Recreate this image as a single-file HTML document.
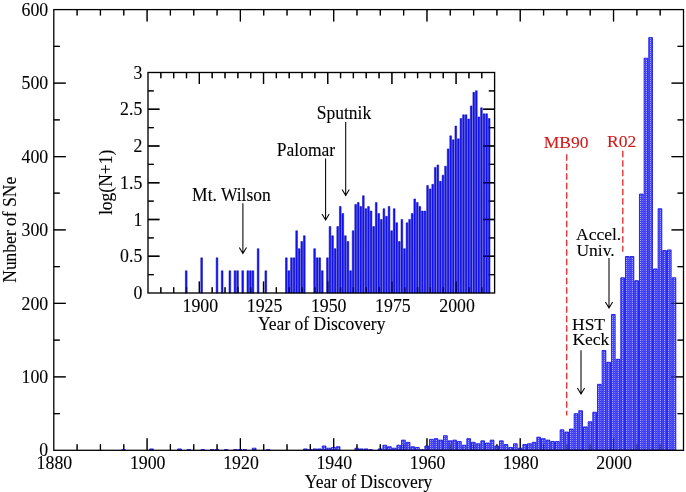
<!DOCTYPE html>
<html><head><meta charset="utf-8"><title>Number of SNe</title>
<style>html,body{margin:0;padding:0;background:#fff}svg{display:block}</style></head>
<body>
<svg width="686" height="492" viewBox="0 0 686 492" font-family="'Liberation Serif', 'Times New Roman', serif" font-size="17.5px" fill="#000">
<style>text{stroke:#000;stroke-width:.1px}text.r{stroke:#cf1a1a}</style>
<defs><pattern id="dots" width="2" height="2" patternUnits="userSpaceOnUse"><rect width="2" height="2" fill="#4848f8"/><rect x="0" y="0" width="1" height="1" fill="#a0a0ff"/></pattern></defs>
<rect width="686" height="492" fill="#fff"/>
<path d="M147.09 450.30v-12M147.09 9.60v12M240.38 450.30v-12M240.38 9.60v12M333.67 450.30v-12M333.67 9.60v12M426.96 450.30v-12M426.96 9.60v12M520.24 450.30v-12M520.24 9.60v12M613.53 450.30v-12M613.53 9.60v12M77.12 450.30v-6M77.12 9.60v6M100.44 450.30v-6M100.44 9.60v6M123.77 450.30v-6M123.77 9.60v6M170.41 450.30v-6M170.41 9.60v6M193.73 450.30v-6M193.73 9.60v6M217.06 450.30v-6M217.06 9.60v6M263.70 450.30v-6M263.70 9.60v6M287.02 450.30v-6M287.02 9.60v6M310.34 450.30v-6M310.34 9.60v6M356.99 450.30v-6M356.99 9.60v6M380.31 450.30v-6M380.31 9.60v6M403.63 450.30v-6M403.63 9.60v6M450.28 450.30v-6M450.28 9.60v6M473.60 450.30v-6M473.60 9.60v6M496.92 450.30v-6M496.92 9.60v6M543.57 450.30v-6M543.57 9.60v6M566.89 450.30v-6M566.89 9.60v6M590.21 450.30v-6M590.21 9.60v6M636.86 450.30v-6M636.86 9.60v6M660.18 450.30v-6M660.18 9.60v6M53.80 376.85h12M683.50 376.85h-12M53.80 303.40h12M683.50 303.40h-12M53.80 229.95h12M683.50 229.95h-12M53.80 156.50h12M683.50 156.50h-12M53.80 83.05h12M683.50 83.05h-12M53.80 413.58h6M683.50 413.58h-6M53.80 340.12h6M683.50 340.12h-6M53.80 266.68h6M683.50 266.68h-6M53.80 193.23h6M683.50 193.23h-6M53.80 119.78h6M683.50 119.78h-6M53.80 46.33h6M683.50 46.33h-6" stroke="#000" stroke-width="1.25" fill="none"/>
<path d="M121.68 450.30V449.67H125.40V450.30ZM149.67 450.30V448.93H153.39V450.30ZM177.66 450.30V448.93H181.37V450.30ZM186.99 450.30V449.67H190.70V450.30ZM200.98 450.30V449.67H204.69V450.30ZM210.31 450.30V449.67H214.02V450.30ZM214.97 450.30V449.67H218.69V450.30ZM224.30 450.30V449.67H228.02V450.30ZM233.63 450.30V449.67H237.35V450.30ZM238.30 450.30V449.67H242.01V450.30ZM242.96 450.30V449.67H246.67V450.30ZM252.29 450.30V448.20H256.00V450.30ZM266.28 450.30V449.67H270.00V450.30ZM303.60 450.30V448.93H307.31V450.30ZM308.26 450.30V449.67H311.98V450.30ZM312.93 450.30V448.93H316.64V450.30ZM317.59 450.30V448.93H321.31V450.30ZM322.26 450.30V445.99H325.97V450.30ZM326.92 450.30V448.20H330.63V450.30ZM331.58 450.30V447.46H335.30V450.30ZM336.25 450.30V446.73H339.96V450.30ZM354.91 450.30V448.20H358.62V450.30ZM359.57 450.30V448.93H363.29V450.30ZM364.24 450.30V448.93H367.95V450.30ZM368.90 450.30V449.67H372.61V450.30ZM378.23 450.30V448.93H381.94V450.30ZM382.89 450.30V445.26H386.61V450.30ZM387.56 450.30V446.73H391.27V450.30ZM392.22 450.30V448.20H395.94V450.30ZM396.89 450.30V445.26H400.60V450.30ZM401.55 450.30V440.12H405.27V450.30ZM406.22 450.30V442.32H409.93V450.30ZM410.88 450.30V446.73H414.59V450.30ZM415.54 450.30V447.46H419.26V450.30ZM420.21 450.30V449.67H423.92V450.30ZM424.87 450.30V445.99H428.59V450.30ZM429.54 450.30V439.38H433.25V450.30ZM434.20 450.30V438.65H437.92V450.30ZM438.87 450.30V440.12H442.58V450.30ZM443.53 450.30V435.71H447.25V450.30ZM448.20 450.30V440.85H451.91V450.30ZM452.86 450.30V440.12H456.57V450.30ZM457.52 450.30V441.59H461.24V450.30ZM462.19 450.30V445.26H465.90V450.30ZM466.85 450.30V438.65H470.57V450.30ZM471.52 450.30V442.32H475.23V450.30ZM476.18 450.30V443.79H479.90V450.30ZM480.85 450.30V440.85H484.56V450.30ZM485.51 450.30V443.06H489.23V450.30ZM490.18 450.30V440.12H493.89V450.30ZM494.84 450.30V445.99H498.55V450.30ZM499.50 450.30V440.85H503.22V450.30ZM504.17 450.30V444.52H507.88V450.30ZM508.83 450.30V447.46H512.55V450.30ZM513.50 450.30V443.79H517.21V450.30ZM518.16 450.30V448.20H521.88V450.30ZM522.83 450.30V444.52H526.54V450.30ZM527.49 450.30V443.79H531.21V450.30ZM532.16 450.30V442.32H535.87V450.30ZM536.82 450.30V437.18H540.53V450.30ZM541.48 450.30V438.65H545.20V450.30ZM546.15 450.30V440.12H549.86V450.30ZM550.81 450.30V441.59H554.53V450.30ZM555.48 450.30V441.59H559.19V450.30ZM560.14 450.30V429.83H563.86V450.30ZM564.81 450.30V432.04H568.52V450.30ZM569.47 450.30V429.10H573.19V450.30ZM574.14 450.30V413.68H577.85V450.30ZM578.80 450.30V410.74H582.51V450.30ZM583.46 450.30V426.90H587.18V450.30ZM588.13 450.30V421.75H591.84V450.30ZM592.79 450.30V412.21H596.51V450.30ZM597.46 450.30V384.30H601.17V450.30ZM602.12 450.30V350.51H605.84V450.30ZM606.79 450.30V362.26H610.50V450.30ZM611.45 450.30V314.52H615.17V450.30ZM616.12 450.30V359.32H619.83V450.30ZM620.78 450.30V277.79H624.49V450.30ZM625.44 450.30V256.49H629.16V450.30ZM630.11 450.30V256.49H633.82V450.30ZM634.77 450.30V280.73H638.49V450.30ZM639.44 450.30V194.06H643.15V450.30ZM644.10 450.30V58.18H647.82V450.30ZM648.77 450.30V37.61H652.48V450.30ZM653.43 450.30V268.98H657.15V450.30ZM658.10 450.30V208.75H661.81V450.30ZM662.76 450.30V250.62H666.47V450.30ZM667.42 450.30V249.88H671.14V450.30ZM672.09 450.30V277.79H675.80V450.30Z" fill="url(#dots)" stroke="none"/>
<path d="M121.68 450.30V449.67H125.40V450.30ZM149.67 450.30V448.93H153.39V450.30ZM177.66 450.30V448.93H181.37V450.30ZM186.99 450.30V449.67H190.70V450.30ZM200.98 450.30V449.67H204.69V450.30ZM210.31 450.30V449.67H214.02V450.30ZM214.97 450.30V449.67H218.69V450.30ZM224.30 450.30V449.67H228.02V450.30ZM233.63 450.30V449.67H237.35V450.30ZM238.30 450.30V449.67H242.01V450.30ZM242.96 450.30V449.67H246.67V450.30ZM252.29 450.30V448.20H256.00V450.30ZM266.28 450.30V449.67H270.00V450.30ZM303.60 450.30V448.93H307.31V450.30ZM308.26 450.30V449.67H311.98V450.30ZM312.93 450.30V448.93H316.64V450.30ZM317.59 450.30V448.93H321.31V450.30ZM322.26 450.30V445.99H325.97V450.30ZM326.92 450.30V448.20H330.63V450.30ZM331.58 450.30V447.46H335.30V450.30ZM336.25 450.30V446.73H339.96V450.30ZM354.91 450.30V448.20H358.62V450.30ZM359.57 450.30V448.93H363.29V450.30ZM364.24 450.30V448.93H367.95V450.30ZM368.90 450.30V449.67H372.61V450.30ZM378.23 450.30V448.93H381.94V450.30ZM382.89 450.30V445.26H386.61V450.30ZM387.56 450.30V446.73H391.27V450.30ZM392.22 450.30V448.20H395.94V450.30ZM396.89 450.30V445.26H400.60V450.30ZM401.55 450.30V440.12H405.27V450.30ZM406.22 450.30V442.32H409.93V450.30ZM410.88 450.30V446.73H414.59V450.30ZM415.54 450.30V447.46H419.26V450.30ZM420.21 450.30V449.67H423.92V450.30ZM424.87 450.30V445.99H428.59V450.30ZM429.54 450.30V439.38H433.25V450.30ZM434.20 450.30V438.65H437.92V450.30ZM438.87 450.30V440.12H442.58V450.30ZM443.53 450.30V435.71H447.25V450.30ZM448.20 450.30V440.85H451.91V450.30ZM452.86 450.30V440.12H456.57V450.30ZM457.52 450.30V441.59H461.24V450.30ZM462.19 450.30V445.26H465.90V450.30ZM466.85 450.30V438.65H470.57V450.30ZM471.52 450.30V442.32H475.23V450.30ZM476.18 450.30V443.79H479.90V450.30ZM480.85 450.30V440.85H484.56V450.30ZM485.51 450.30V443.06H489.23V450.30ZM490.18 450.30V440.12H493.89V450.30ZM494.84 450.30V445.99H498.55V450.30ZM499.50 450.30V440.85H503.22V450.30ZM504.17 450.30V444.52H507.88V450.30ZM508.83 450.30V447.46H512.55V450.30ZM513.50 450.30V443.79H517.21V450.30ZM518.16 450.30V448.20H521.88V450.30ZM522.83 450.30V444.52H526.54V450.30ZM527.49 450.30V443.79H531.21V450.30ZM532.16 450.30V442.32H535.87V450.30ZM536.82 450.30V437.18H540.53V450.30ZM541.48 450.30V438.65H545.20V450.30ZM546.15 450.30V440.12H549.86V450.30ZM550.81 450.30V441.59H554.53V450.30ZM555.48 450.30V441.59H559.19V450.30ZM560.14 450.30V429.83H563.86V450.30ZM564.81 450.30V432.04H568.52V450.30ZM569.47 450.30V429.10H573.19V450.30ZM574.14 450.30V413.68H577.85V450.30ZM578.80 450.30V410.74H582.51V450.30ZM583.46 450.30V426.90H587.18V450.30ZM588.13 450.30V421.75H591.84V450.30ZM592.79 450.30V412.21H596.51V450.30ZM597.46 450.30V384.30H601.17V450.30ZM602.12 450.30V350.51H605.84V450.30ZM606.79 450.30V362.26H610.50V450.30ZM611.45 450.30V314.52H615.17V450.30ZM616.12 450.30V359.32H619.83V450.30ZM620.78 450.30V277.79H624.49V450.30ZM625.44 450.30V256.49H629.16V450.30ZM630.11 450.30V256.49H633.82V450.30ZM634.77 450.30V280.73H638.49V450.30ZM639.44 450.30V194.06H643.15V450.30ZM644.10 450.30V58.18H647.82V450.30ZM648.77 450.30V37.61H652.48V450.30ZM653.43 450.30V268.98H657.15V450.30ZM658.10 450.30V208.75H661.81V450.30ZM662.76 450.30V250.62H666.47V450.30ZM667.42 450.30V249.88H671.14V450.30ZM672.09 450.30V277.79H675.80V450.30Z" fill="none" stroke="#0606e6" stroke-width="0.8"/>
<g opacity="0.45"><path d="M147.09 450.30v-12M147.09 9.60v12M240.38 450.30v-12M240.38 9.60v12M333.67 450.30v-12M333.67 9.60v12M426.96 450.30v-12M426.96 9.60v12M520.24 450.30v-12M520.24 9.60v12M613.53 450.30v-12M613.53 9.60v12M77.12 450.30v-6M77.12 9.60v6M100.44 450.30v-6M100.44 9.60v6M123.77 450.30v-6M123.77 9.60v6M170.41 450.30v-6M170.41 9.60v6M193.73 450.30v-6M193.73 9.60v6M217.06 450.30v-6M217.06 9.60v6M263.70 450.30v-6M263.70 9.60v6M287.02 450.30v-6M287.02 9.60v6M310.34 450.30v-6M310.34 9.60v6M356.99 450.30v-6M356.99 9.60v6M380.31 450.30v-6M380.31 9.60v6M403.63 450.30v-6M403.63 9.60v6M450.28 450.30v-6M450.28 9.60v6M473.60 450.30v-6M473.60 9.60v6M496.92 450.30v-6M496.92 9.60v6M543.57 450.30v-6M543.57 9.60v6M566.89 450.30v-6M566.89 9.60v6M590.21 450.30v-6M590.21 9.60v6M636.86 450.30v-6M636.86 9.60v6M660.18 450.30v-6M660.18 9.60v6M53.80 376.85h12M683.50 376.85h-12M53.80 303.40h12M683.50 303.40h-12M53.80 229.95h12M683.50 229.95h-12M53.80 156.50h12M683.50 156.50h-12M53.80 83.05h12M683.50 83.05h-12M53.80 413.58h6M683.50 413.58h-6M53.80 340.12h6M683.50 340.12h-6M53.80 266.68h6M683.50 266.68h-6M53.80 193.23h6M683.50 193.23h-6M53.80 119.78h6M683.50 119.78h-6M53.80 46.33h6M683.50 46.33h-6" stroke="#000" stroke-width="1.25" fill="none"/></g>
<rect x="53.8" y="9.6" width="629.70" height="440.70" fill="none" stroke="#000" stroke-width="1.3"/>
<text transform="translate(48.20 456.40) scale(1 1.08)" text-anchor="end" font-size="17.8px">0</text>
<text transform="translate(48.20 382.95) scale(1 1.08)" text-anchor="end" font-size="17.8px">100</text>
<text transform="translate(48.20 309.50) scale(1 1.08)" text-anchor="end" font-size="17.8px">200</text>
<text transform="translate(48.20 236.05) scale(1 1.08)" text-anchor="end" font-size="17.8px">300</text>
<text transform="translate(48.20 162.60) scale(1 1.08)" text-anchor="end" font-size="17.8px">400</text>
<text transform="translate(48.20 89.15) scale(1 1.08)" text-anchor="end" font-size="17.8px">500</text>
<text transform="translate(48.20 15.70) scale(1 1.08)" text-anchor="end" font-size="17.8px">600</text>
<text transform="translate(54.40 469.30) scale(1 1.08)" text-anchor="middle" font-size="17.8px">1880</text>
<text transform="translate(147.69 469.30) scale(1 1.08)" text-anchor="middle" font-size="17.8px">1900</text>
<text transform="translate(240.98 469.30) scale(1 1.08)" text-anchor="middle" font-size="17.8px">1920</text>
<text transform="translate(334.27 469.30) scale(1 1.08)" text-anchor="middle" font-size="17.8px">1940</text>
<text transform="translate(427.56 469.30) scale(1 1.08)" text-anchor="middle" font-size="17.8px">1960</text>
<text transform="translate(520.84 469.30) scale(1 1.08)" text-anchor="middle" font-size="17.8px">1980</text>
<text transform="translate(614.13 469.30) scale(1 1.08)" text-anchor="middle" font-size="17.8px">2000</text>
<text transform="translate(368.50 488.00) scale(1 1.05)" text-anchor="middle">Year of Discovery</text>
<text transform="translate(15.90 229.80) rotate(-90) scale(1 1.05)" text-anchor="middle">Nunber of SNe</text>
<rect x="148.0" y="72.5" width="346.60" height="220.50" fill="#fff" stroke="none"/>
<path d="M199.35 293.00v-11.5M199.35 72.50v11.5M263.53 293.00v-11.5M263.53 72.50v11.5M327.72 293.00v-11.5M327.72 72.50v11.5M391.90 293.00v-11.5M391.90 72.50v11.5M456.09 293.00v-11.5M456.09 72.50v11.5M160.84 293.00v-5.8M160.84 72.50v5.8M173.67 293.00v-5.8M173.67 72.50v5.8M186.51 293.00v-5.8M186.51 72.50v5.8M212.19 293.00v-5.8M212.19 72.50v5.8M225.02 293.00v-5.8M225.02 72.50v5.8M237.86 293.00v-5.8M237.86 72.50v5.8M250.70 293.00v-5.8M250.70 72.50v5.8M276.37 293.00v-5.8M276.37 72.50v5.8M289.21 293.00v-5.8M289.21 72.50v5.8M302.04 293.00v-5.8M302.04 72.50v5.8M314.88 293.00v-5.8M314.88 72.50v5.8M340.56 293.00v-5.8M340.56 72.50v5.8M353.39 293.00v-5.8M353.39 72.50v5.8M366.23 293.00v-5.8M366.23 72.50v5.8M379.07 293.00v-5.8M379.07 72.50v5.8M404.74 293.00v-5.8M404.74 72.50v5.8M417.58 293.00v-5.8M417.58 72.50v5.8M430.41 293.00v-5.8M430.41 72.50v5.8M443.25 293.00v-5.8M443.25 72.50v5.8M468.93 293.00v-5.8M468.93 72.50v5.8M481.76 293.00v-5.8M481.76 72.50v5.8M148.00 256.25h11.5M494.60 256.25h-11.5M148.00 219.50h11.5M494.60 219.50h-11.5M148.00 182.75h11.5M494.60 182.75h-11.5M148.00 146.00h11.5M494.60 146.00h-11.5M148.00 109.25h11.5M494.60 109.25h-11.5M148.00 274.62h5.8M494.60 274.62h-5.8M148.00 237.88h5.8M494.60 237.88h-5.8M148.00 201.12h5.8M494.60 201.12h-5.8M148.00 164.38h5.8M494.60 164.38h-5.8M148.00 127.62h5.8M494.60 127.62h-5.8M148.00 90.88h5.8M494.60 90.88h-5.8" stroke="#000" stroke-width="1.3" fill="none"/>
<path d="M185.36 293.00V270.77h1.7V293.00ZM200.77 293.00V257.83h1.7V293.00ZM216.17 293.00V257.83h1.7V293.00ZM221.30 293.00V270.77h1.7V293.00ZM229.01 293.00V270.77h1.7V293.00ZM234.14 293.00V270.77h1.7V293.00ZM236.71 293.00V270.77h1.7V293.00ZM241.84 293.00V270.77h1.7V293.00ZM246.98 293.00V270.77h1.7V293.00ZM249.55 293.00V270.77h1.7V293.00ZM252.11 293.00V270.77h1.7V293.00ZM257.25 293.00V248.65h1.7V293.00ZM264.95 293.00V270.77h1.7V293.00ZM285.49 293.00V257.83h1.7V293.00ZM288.06 293.00V270.77h1.7V293.00ZM290.62 293.00V257.83h1.7V293.00ZM293.19 293.00V257.83h1.7V293.00ZM295.76 293.00V230.79h1.7V293.00ZM298.33 293.00V248.65h1.7V293.00ZM300.89 293.00V241.53h1.7V293.00ZM303.46 293.00V235.71h1.7V293.00ZM313.73 293.00V248.65h1.7V293.00ZM316.30 293.00V257.83h1.7V293.00ZM318.87 293.00V257.83h1.7V293.00ZM321.43 293.00V270.77h1.7V293.00ZM326.57 293.00V257.83h1.7V293.00ZM329.14 293.00V226.52h1.7V293.00ZM331.70 293.00V235.71h1.7V293.00ZM334.27 293.00V248.65h1.7V293.00ZM336.84 293.00V226.52h1.7V293.00ZM339.41 293.00V206.46h1.7V293.00ZM341.97 293.00V213.58h1.7V293.00ZM344.54 293.00V235.71h1.7V293.00ZM347.11 293.00V241.53h1.7V293.00ZM349.68 293.00V270.77h1.7V293.00ZM352.24 293.00V230.79h1.7V293.00ZM354.81 293.00V204.40h1.7V293.00ZM357.38 293.00V202.46h1.7V293.00ZM359.94 293.00V206.46h1.7V293.00ZM362.51 293.00V195.72h1.7V293.00ZM365.08 293.00V208.66h1.7V293.00ZM367.65 293.00V206.46h1.7V293.00ZM370.21 293.00V211.03h1.7V293.00ZM372.78 293.00V226.52h1.7V293.00ZM375.35 293.00V202.46h1.7V293.00ZM377.92 293.00V213.58h1.7V293.00ZM380.48 293.00V219.40h1.7V293.00ZM383.05 293.00V208.66h1.7V293.00ZM385.62 293.00V216.36h1.7V293.00ZM388.19 293.00V206.46h1.7V293.00ZM390.75 293.00V230.79h1.7V293.00ZM393.32 293.00V208.66h1.7V293.00ZM395.89 293.00V222.76h1.7V293.00ZM398.46 293.00V241.53h1.7V293.00ZM401.02 293.00V219.40h1.7V293.00ZM403.59 293.00V248.65h1.7V293.00ZM406.16 293.00V222.76h1.7V293.00ZM408.73 293.00V219.40h1.7V293.00ZM411.29 293.00V213.58h1.7V293.00ZM413.86 293.00V198.91h1.7V293.00ZM416.43 293.00V202.46h1.7V293.00ZM419.00 293.00V206.46h1.7V293.00ZM421.56 293.00V211.03h1.7V293.00ZM424.13 293.00V211.03h1.7V293.00ZM426.70 293.00V185.41h1.7V293.00ZM429.26 293.00V188.90h1.7V293.00ZM431.83 293.00V184.33h1.7V293.00ZM434.40 293.00V167.39h1.7V293.00ZM436.97 293.00V164.98h1.7V293.00ZM439.53 293.00V181.29h1.7V293.00ZM442.10 293.00V175.15h1.7V293.00ZM444.67 293.00V166.17h1.7V293.00ZM447.24 293.00V148.91h1.7V293.00ZM449.80 293.00V135.85h1.7V293.00ZM452.37 293.00V139.82h1.7V293.00ZM454.94 293.00V126.09h1.7V293.00ZM457.51 293.00V138.78h1.7V293.00ZM460.07 293.00V118.49h1.7V293.00ZM462.64 293.00V114.79h1.7V293.00ZM465.21 293.00V114.79h1.7V293.00ZM467.78 293.00V119.04h1.7V293.00ZM470.34 293.00V105.91h1.7V293.00ZM472.91 293.00V92.37h1.7V293.00ZM475.48 293.00V90.74h1.7V293.00ZM478.05 293.00V116.91h1.7V293.00ZM480.61 293.00V107.79h1.7V293.00ZM483.18 293.00V113.84h1.7V293.00ZM485.75 293.00V113.73h1.7V293.00ZM488.32 293.00V118.49h1.7V293.00Z" fill="#1414ff" stroke="#0000b8" stroke-width="0.5"/>
<g opacity="0.55"><path d="M199.35 293.00v-11.5M199.35 72.50v11.5M263.53 293.00v-11.5M263.53 72.50v11.5M327.72 293.00v-11.5M327.72 72.50v11.5M391.90 293.00v-11.5M391.90 72.50v11.5M456.09 293.00v-11.5M456.09 72.50v11.5M160.84 293.00v-5.8M160.84 72.50v5.8M173.67 293.00v-5.8M173.67 72.50v5.8M186.51 293.00v-5.8M186.51 72.50v5.8M212.19 293.00v-5.8M212.19 72.50v5.8M225.02 293.00v-5.8M225.02 72.50v5.8M237.86 293.00v-5.8M237.86 72.50v5.8M250.70 293.00v-5.8M250.70 72.50v5.8M276.37 293.00v-5.8M276.37 72.50v5.8M289.21 293.00v-5.8M289.21 72.50v5.8M302.04 293.00v-5.8M302.04 72.50v5.8M314.88 293.00v-5.8M314.88 72.50v5.8M340.56 293.00v-5.8M340.56 72.50v5.8M353.39 293.00v-5.8M353.39 72.50v5.8M366.23 293.00v-5.8M366.23 72.50v5.8M379.07 293.00v-5.8M379.07 72.50v5.8M404.74 293.00v-5.8M404.74 72.50v5.8M417.58 293.00v-5.8M417.58 72.50v5.8M430.41 293.00v-5.8M430.41 72.50v5.8M443.25 293.00v-5.8M443.25 72.50v5.8M468.93 293.00v-5.8M468.93 72.50v5.8M481.76 293.00v-5.8M481.76 72.50v5.8M148.00 256.25h11.5M494.60 256.25h-11.5M148.00 219.50h11.5M494.60 219.50h-11.5M148.00 182.75h11.5M494.60 182.75h-11.5M148.00 146.00h11.5M494.60 146.00h-11.5M148.00 109.25h11.5M494.60 109.25h-11.5M148.00 274.62h5.8M494.60 274.62h-5.8M148.00 237.88h5.8M494.60 237.88h-5.8M148.00 201.12h5.8M494.60 201.12h-5.8M148.00 164.38h5.8M494.60 164.38h-5.8M148.00 127.62h5.8M494.60 127.62h-5.8M148.00 90.88h5.8M494.60 90.88h-5.8" stroke="#000" stroke-width="1.3" fill="none"/></g>
<rect x="148.0" y="72.5" width="346.60" height="220.50" fill="none" stroke="#000" stroke-width="1.35"/>
<text transform="translate(142.30 299.00) scale(1 1.08)" text-anchor="end" font-size="17.8px">0</text>
<text transform="translate(142.30 262.25) scale(1 1.08)" text-anchor="end" font-size="17.8px">0.5</text>
<text transform="translate(142.30 225.50) scale(1 1.08)" text-anchor="end" font-size="17.8px">1</text>
<text transform="translate(142.30 188.75) scale(1 1.08)" text-anchor="end" font-size="17.8px">1.5</text>
<text transform="translate(142.30 152.00) scale(1 1.08)" text-anchor="end" font-size="17.8px">2</text>
<text transform="translate(142.30 115.25) scale(1 1.08)" text-anchor="end" font-size="17.8px">2.5</text>
<text transform="translate(142.30 78.50) scale(1 1.08)" text-anchor="end" font-size="17.8px">3</text>
<text transform="translate(200.35 311.70) scale(1 1.08)" text-anchor="middle" font-size="17.8px">1900</text>
<text transform="translate(264.53 311.70) scale(1 1.08)" text-anchor="middle" font-size="17.8px">1925</text>
<text transform="translate(328.72 311.70) scale(1 1.08)" text-anchor="middle" font-size="17.8px">1950</text>
<text transform="translate(392.90 311.70) scale(1 1.08)" text-anchor="middle" font-size="17.8px">1975</text>
<text transform="translate(457.09 311.70) scale(1 1.08)" text-anchor="middle" font-size="17.8px">2000</text>
<text transform="translate(321.70 329.90) scale(1 1.05)" text-anchor="middle">Year of Discovery</text>
<text transform="translate(111.60 182.40) rotate(-90) scale(1 1.05)" text-anchor="middle">log(N+1)</text>
<text transform="translate(192.10 200.60) scale(1 1.03)">Mt. Wilson</text>
<path d="M242.9 203.3V253.8M239.3 247.4L242.9 253.4L246.5 247.4" fill="none" stroke="#000" stroke-width="1.05" stroke-linejoin="miter"/>
<text transform="translate(276.80 156.00) scale(1 1.03)">Palomar</text>
<path d="M325.6 158.4V220.3M322.0 213.9L325.6 219.9L329.20000000000005 213.9" fill="none" stroke="#000" stroke-width="1.05" stroke-linejoin="miter"/>
<text transform="translate(316.80 118.70) scale(1 1.03)">Sputnik</text>
<path d="M345.7 122.1V196.0M342.09999999999997 189.6L345.7 195.6L349.3 189.6" fill="none" stroke="#000" stroke-width="1.05" stroke-linejoin="miter"/>
<text transform="translate(576.00 240.10) scale(1 1.0)">Accel.</text><text transform="translate(576.40 255.80) scale(1 1.0)">Univ.</text>
<path d="M609.0 258.1V308.3M605.4 301.90000000000003L609.0 307.90000000000003L612.6 301.90000000000003" fill="none" stroke="#000" stroke-width="1.05" stroke-linejoin="miter"/>
<text transform="translate(572.00 329.80) scale(1 1.0)">HST</text><text transform="translate(572.40 344.50) scale(1 1.0)">Keck</text>
<path d="M581.0 350.2V394.5M577.4 388.1L581.0 394.1L584.6 388.1" fill="none" stroke="#000" stroke-width="1.05" stroke-linejoin="miter"/>
<text transform="translate(543.70 148.00) scale(1 1.0)" fill="#cf1a1a" class="r">MB90</text><text transform="translate(607.00 146.80) scale(1 1.0)" fill="#cf1a1a" class="r">R02</text>
<path d="M566.7 154.3V415.5" stroke="#e23a3a" stroke-width="1.45" stroke-dasharray="6.5 3" fill="none"/>
<path d="M622.8 150.8V251.7" stroke="#e23a3a" stroke-width="1.45" stroke-dasharray="6.5 3" fill="none"/>
</svg>
</body></html>
